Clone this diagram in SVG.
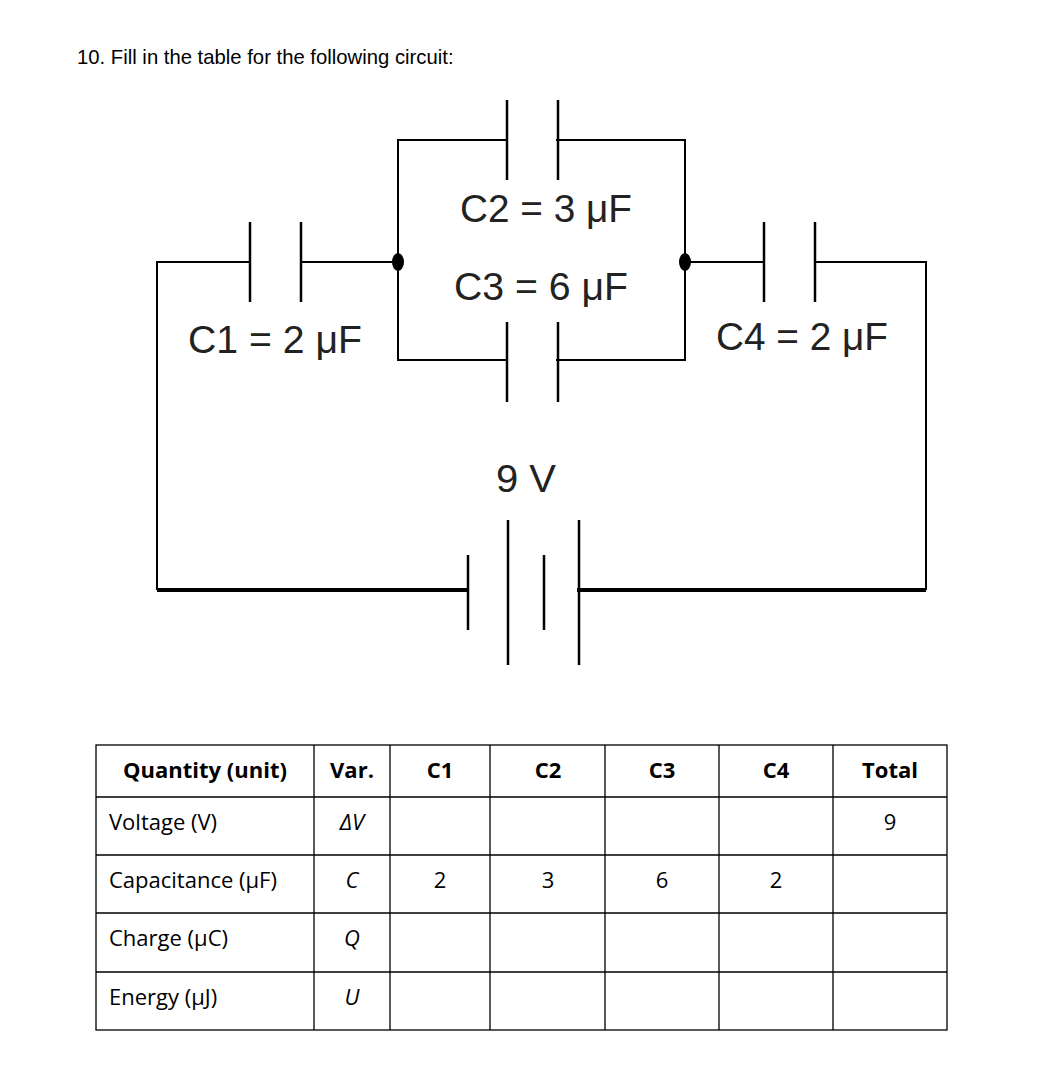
<svg xmlns="http://www.w3.org/2000/svg" width="1040" height="1084" viewBox="0 0 1040 1084">
<style>
.w{stroke:#000;stroke-width:2;fill:none}
.p{stroke:#000;stroke-width:2.5}
.lbl{font-family:"Liberation Sans",Arial,sans-serif;font-size:38px;fill:#222}
.t{font-family:"Open Sans","Noto Sans",sans-serif;font-size:22px;fill:#000}
.b{font-weight:bold}
.g{stroke:#000;stroke-width:1.3;fill:none}
</style>
<rect width="1040" height="1084" fill="#fff"/>
<text x="77" y="64" font-family="Liberation Sans,Arial,sans-serif" font-size="20.3" fill="#000">10. Fill in the table for the following circuit:</text>
<g id="connectors">
<polyline class="w" points="250,262 157,262 157,590"/>
<polyline class="w" points="300,262 398,262"/>
<polyline class="w" points="507,140 398,140 398,360 507,360"/>
<polyline class="w" points="556,140 685,140 685,360 556,360"/>
<polyline class="w" points="685,262 764,262"/>
<polyline class="w" points="815,262 926,262 926,590"/>
<polyline stroke="#000" stroke-width="4" fill="none" points="157,590 467,590"/>
<polyline stroke="#000" stroke-width="4" fill="none" points="577,590 926,590"/>
<ellipse cx="398" cy="262" rx="6" ry="9" fill="#000"/>
<ellipse cx="685" cy="262" rx="6" ry="9" fill="#000"/>
</g>
<g id="C1"><line class="p" x1="250" y1="222" x2="250" y2="302"/><line class="p" x1="301" y1="222" x2="301" y2="302"/><text class="lbl" x="188" y="353" textLength="174" lengthAdjust="spacingAndGlyphs">C1 = 2 μF</text></g>
<g id="C2"><line class="p" x1="507" y1="100" x2="507" y2="180"/><line class="p" x1="558" y1="100" x2="558" y2="180"/><text class="lbl" x="460" y="222" textLength="172" lengthAdjust="spacingAndGlyphs">C2 = 3 μF</text></g>
<g id="C3"><line class="p" x1="507" y1="322" x2="507" y2="402"/><line class="p" x1="558" y1="322" x2="558" y2="402"/><text class="lbl" x="454" y="300" textLength="174" lengthAdjust="spacingAndGlyphs">C3 = 6 μF</text></g>
<g id="C4"><line class="p" x1="764" y1="222" x2="764" y2="302"/><line class="p" x1="815" y1="222" x2="815" y2="302"/><text class="lbl" x="716" y="350" textLength="172" lengthAdjust="spacingAndGlyphs">C4 = 2 μF</text></g>
<g id="battery">
<line class="p" x1="468" y1="555" x2="468" y2="630"/>
<line class="p" x1="508" y1="520" x2="508" y2="665"/>
<line class="p" x1="544" y1="555" x2="544" y2="630"/>
<line class="p" x1="579" y1="520" x2="579" y2="665"/>
<text class="lbl" x="496" y="492" font-size="30" textLength="60" lengthAdjust="spacingAndGlyphs">9 V</text>
</g>
<g id="table">
<rect class="g" x="96" y="745" width="851" height="285"/>
<path class="g" d="M96,797H947M96,855H947M96,913H947M96,972H947M314,745V1030M390,745V1030M490,745V1030M605,745V1030M719,745V1030M833,745V1030"/>
<g class="t">
<text class="b" x="205" y="778" text-anchor="middle">Quantity (unit)</text>
<text class="b" x="352" y="778" text-anchor="middle">Var.</text>
<text class="b" x="440" y="778" text-anchor="middle">C1</text>
<text class="b" x="548" y="778" text-anchor="middle">C2</text>
<text class="b" x="662" y="778" text-anchor="middle">C3</text>
<text class="b" x="776" y="778" text-anchor="middle">C4</text>
<text class="b" x="890" y="778" text-anchor="middle">Total</text>
<text x="109" y="830">Voltage (V)</text>
<text x="109" y="888">Capacitance (μF)</text>
<text x="109" y="946">Charge (μC)</text>
<text x="109" y="1005">Energy (μJ)</text>
<text x="352" y="830" text-anchor="middle" font-style="italic">ΔV</text>
<text x="352" y="888" text-anchor="middle" font-style="italic">C</text>
<text x="352" y="946" text-anchor="middle" font-style="italic">Q</text>
<text x="352" y="1005" text-anchor="middle" font-style="italic">U</text>
<text x="890" y="830" text-anchor="middle">9</text>
<text x="440" y="888" text-anchor="middle">2</text>
<text x="548" y="888" text-anchor="middle">3</text>
<text x="662" y="888" text-anchor="middle">6</text>
<text x="776" y="888" text-anchor="middle">2</text>
</g>
</g>
</svg>
